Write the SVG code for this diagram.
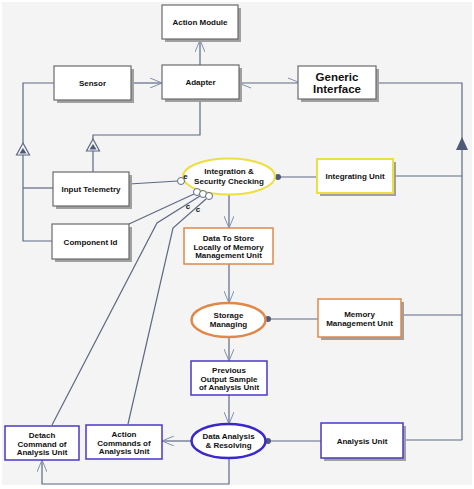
<svg xmlns="http://www.w3.org/2000/svg" width="474" height="489" viewBox="0 0 474 489">
<style>
.bg{fill:#f4f4f4}
.box{fill:#fff;stroke:#6a6a6a;stroke-width:1.2}
.sh{fill:#a0a0a0}
.y{stroke:#ece040;stroke-width:2}
.o{stroke:#e0884a;stroke-width:1.5}
.b{stroke:#4a38c8;stroke-width:1.5}
.t{font-family:"Liberation Sans",Arial,sans-serif;font-weight:bold;font-size:8px;fill:#111;text-anchor:middle}
.big{font-size:11.5px}
.ln{fill:none;stroke:#5d6983;stroke-width:1.2}
.ah{fill:none;stroke:#8090aa;stroke-width:1}
.dot{fill:#4e5a78}
.pc{fill:#fff;stroke:#5d6983;stroke-width:1}
</style>
<defs>
<marker id="oa" viewBox="0 0 12 10" refX="12" refY="5" markerWidth="12" markerHeight="10" markerUnits="userSpaceOnUse" orient="auto">
<path d="M0,0 L12,5 L0,10" fill="none" stroke="#8090aa" stroke-width="1"/>
</marker>
</defs>
<rect width="474" height="489" fill="#fff"/>
<rect class="bg" x="2" y="2" width="470" height="483"/>

<g id="connectors">
<line class="ln" x1="131" y1="83" x2="162" y2="83" marker-end="url(#oa)"/>
<line class="ln" x1="200" y1="65" x2="200" y2="40" marker-end="url(#oa)"/>
<line class="ln" x1="239" y1="83" x2="298" y2="83"/>
<path class="ah" d="M288,78 L298,82 M241,84 L251,88"/>
<polyline class="ln" points="376,83 462,83 462,440"/>
<polygon points="462,137 456,150 468,150" fill="#4e5a78"/>
<line class="ln" x1="393" y1="176" x2="462" y2="176"/>
<line class="ln" x1="401" y1="315" x2="462" y2="315"/>
<line class="ln" x1="403" y1="440" x2="462" y2="440"/>
<polyline class="ln" points="54,83 23,83 23,143"/>
<polyline class="ln" points="23,155 23,241 52,241"/>
<line class="ln" x1="23" y1="188" x2="53" y2="188"/>
<polygon points="23,143 16.5,155 29.5,155" fill="#f4f4f4" stroke="#5d6983" stroke-width="1.2"/>
<polygon points="23,148 19.5,153.5 26.5,153.5" fill="#4e5a78"/>
<polyline class="ln" points="200,99 200,135 93,135 93,139"/>
<line class="ln" x1="93" y1="151" x2="93" y2="172"/>
<polygon points="93,139 86.5,151 99.5,151" fill="#f4f4f4" stroke="#5d6983" stroke-width="1.2"/>
<polygon points="93,144 89.5,149.5 96.5,149.5" fill="#4e5a78"/>
<line class="ln" x1="129" y1="184" x2="178" y2="181"/>
<line class="ln" x1="129" y1="224" x2="194" y2="194"/>
<polyline class="ln" points="52,425 157,223 200,196"/>
<polyline class="ln" points="128,424 173,228 206,199"/>
<line class="ln" x1="278" y1="177" x2="317" y2="177"/>
<circle class="dot" cx="278" cy="177" r="3"/>
<line class="ln" x1="229" y1="195" x2="229" y2="228" marker-end="url(#oa)"/>
<line class="ln" x1="229" y1="264" x2="229" y2="303" marker-end="url(#oa)"/>
<line class="ln" x1="229" y1="337" x2="229" y2="361" marker-end="url(#oa)"/>
<line class="ln" x1="229" y1="395" x2="229" y2="424" marker-end="url(#oa)"/>
<line class="ln" x1="268" y1="319" x2="318" y2="319"/>
<circle class="dot" cx="268" cy="319" r="3"/>
<line class="ln" x1="268" y1="441" x2="321" y2="441"/>
<circle class="dot" cx="268" cy="441" r="3"/>
<line class="ln" x1="191" y1="441" x2="162" y2="441" marker-end="url(#oa)"/>
<polyline class="ln" points="229,458 229,484 42,484 42,460" marker-end="url(#oa)"/>
</g>

<g id="action-module">
<rect class="sh" x="165" y="8" width="76" height="34"/>
<rect class="box" x="162" y="5" width="76" height="34"/>
<text class="t" x="200" y="25">Action Module</text>
</g>
<g id="sensor">
<rect class="sh" x="57" y="69" width="77" height="34"/>
<rect class="box" x="54" y="66" width="77" height="34"/>
<text class="t" x="92.5" y="86">Sensor</text>
</g>
<g id="adapter">
<rect class="sh" x="165" y="68" width="77" height="34"/>
<rect class="box" x="162" y="65" width="77" height="34"/>
<text class="t" x="200.5" y="85">Adapter</text>
</g>
<g id="generic-interface">
<rect class="sh" x="301" y="69" width="78" height="33"/>
<rect class="box" x="298" y="66" width="78" height="33" stroke="#111" stroke-width="1.5"/>
<text class="t big" x="337" y="81">Generic</text>
<text class="t big" x="337" y="93">Interface</text>
</g>
<g id="input-telemetry">
<rect class="sh" x="56" y="175" width="76" height="34"/>
<rect class="box" x="53" y="172" width="76" height="34"/>
<text class="t" x="91" y="191.5">Input Telemetry</text>
</g>
<g id="component-id">
<rect class="sh" x="55" y="227" width="77" height="35"/>
<rect class="box" x="52" y="224" width="77" height="35"/>
<text class="t" x="90.5" y="244.5">Component Id</text>
</g>
<g id="integration">
<ellipse cx="229" cy="176.5" rx="46" ry="18" fill="#fff" class="y"/>
<text class="t" x="229" y="174">Integration &amp;</text>
<text class="t" x="229" y="184">Security Checking</text>
</g>
<g id="integrating-unit">
<rect class="sh" x="320" y="162" width="76" height="34"/>
<rect class="box y" x="317" y="159" width="76" height="34"/>
<text class="t" x="355" y="179">Integrating Unit</text>
</g>
<g id="data-to-store">
<rect class="box o" x="184" y="228" width="89" height="36"/>
<text class="t" x="228.5" y="241">Data To Store</text>
<text class="t" x="228.5" y="249.5">Locally of Memory</text>
<text class="t" x="228.5" y="258">Management Unit</text>
</g>
<g id="storage-managing">
<ellipse cx="228.5" cy="320" rx="37" ry="17" fill="#fff" stroke="#e0884a" stroke-width="2.5"/>
<text class="t" x="228.5" y="318">Storage</text>
<text class="t" x="228.5" y="327">Managing</text>
</g>
<g id="memory-management-unit">
<rect class="sh" x="321" y="302" width="83" height="38"/>
<rect class="box o" x="318" y="299" width="83" height="38"/>
<text class="t" x="359.5" y="317">Memory</text>
<text class="t" x="359.5" y="325.5">Management Unit</text>
</g>
<g id="previous-output">
<rect class="box b" x="191" y="361" width="76" height="34"/>
<text class="t" x="229" y="373">Previous</text>
<text class="t" x="229" y="381.5">Output Sample</text>
<text class="t" x="229" y="390">of Analysis Unit</text>
</g>
<g id="data-analysis">
<ellipse cx="228.5" cy="441" rx="37" ry="17" fill="#fff" stroke="#3a28c8" stroke-width="2.5"/>
<text class="t" x="228.5" y="439">Data Analysis</text>
<text class="t" x="228.5" y="448">&amp; Resolving</text>
</g>
<g id="analysis-unit">
<rect class="sh" x="324" y="426" width="82" height="35"/>
<rect class="box b" x="321" y="423" width="82" height="35"/>
<text class="t" x="362" y="443.5">Analysis Unit</text>
</g>
<g id="action-commands">
<rect class="box b" x="86" y="425" width="76" height="34"/>
<text class="t" x="124" y="437">Action</text>
<text class="t" x="124" y="445.5">Commands of</text>
<text class="t" x="124" y="454">Analysis Unit</text>
</g>
<g id="detach-command">
<rect class="box b" x="5" y="426" width="74" height="34"/>
<text class="t" x="42" y="438">Detach</text>
<text class="t" x="42" y="446.5">Command of</text>
<text class="t" x="42" y="455">Analysis Unit</text>
</g>
<g id="ports">
<circle class="pc" cx="181" cy="181" r="3.5"/>
<circle class="pc" cx="197" cy="192" r="3.5"/>
<circle class="pc" cx="203" cy="194" r="3.5"/>
<circle class="pc" cx="209" cy="196" r="3.5"/>
<text class="t" x="185.5" y="179">e</text>
<text class="t" x="188" y="209">c</text>
<text class="t" x="198" y="212">c</text>
</g>
</svg>
